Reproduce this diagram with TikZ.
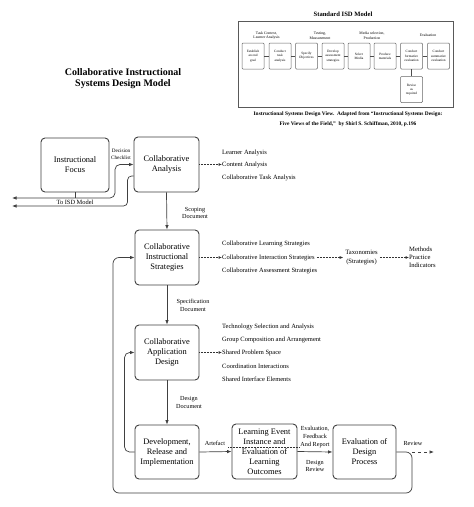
\documentclass[tikz,border=0pt]{standalone}
\usepackage{fontspec}
\setmainfont{Liberation Serif}
\usetikzlibrary{arrows.meta,calc}
\newcommand\fsz[2]{\fontsize{#1}{#2}\selectfont}
\tikzset{
  mbox/.style={draw=black!75, line width=0.9pt, rounded corners=4pt, align=center,
    minimum width=64pt, minimum height=55pt, inner sep=1pt, font=\fsz{8.4}{10}},
  conn/.style={draw=black!75, line width=0.7pt},
  arr/.style={conn, -{Latex[length=4.5pt,width=3.5pt]}},
  darr/.style={conn, {Latex[length=4.5pt,width=3.5pt]}-{Latex[length=4.5pt,width=3.5pt]}},
  dotarr/.style={draw=black!80, line width=0.5pt, densely dotted, -{Latex[length=3.5pt,width=2.8pt]}},
  side/.style={anchor=west, inner sep=0pt, font=\fsz{6.5}{8}},
  lbl/.style={align=center, inner sep=0pt, font=\fsz{6.2}{7.6}},
  sbox/.style={draw=black!60, line width=0.5pt, rounded corners=1pt, minimum width=22pt,
    minimum height=26pt, inner sep=0pt, align=center, font=\fsz{3.4}{4.2}},
  glbl/.style={align=center, inner sep=0pt, font=\fsz{3.8}{4.6}},
  sconn/.style={draw=black!70, line width=0.6pt}
}
\begin{document}
\begin{tikzpicture}[x=1pt,y=-1pt]
\useasboundingbox (0,0) rectangle (474,507);
\fill[white] (0,0) rectangle (474,507);

% ---------- Inset: Standard ISD Model ----------
\node[inner sep=0pt, font=\bfseries\fsz{6.6}{8}] (istitle) at (343,14) {Standard ISD Model};
\node[draw=black!65, line width=0.8pt, minimum width=215pt, minimum height=86pt, inner sep=0pt] (inset) at (345.5,64) {};
\node[sbox] (s1) at (253,56) {Establish\\an end\\goal};
\node[sbox] (s2) at (280,56) {Conduct\\task\\analysis};
\node[sbox] (s3) at (306.5,56) {Specify\\Objectives};
\node[sbox] (s4) at (333,56) {Develop\\assessment\\strategies};
\node[sbox] (s5) at (359,56) {Select\\Media};
\node[sbox] (s6) at (385,56) {Produce\\materials};
\node[sbox] (s7) at (411.5,56) {Conduct\\formative\\evaluation};
\node[sbox] (s8) at (438.5,56) {Conduct\\summative\\evaluation};
\node[sbox] (s9) at (411.5,89.5) {Revise\\as\\required};
\foreach \a/\b in {s1/s2,s2/s3,s3/s4,s4/s5,s5/s6,s6/s7,s7/s8}
  \draw[sconn] (\a.east) -- (\b.west);
\draw[sconn] (s7.south) -- (s9.north);
\node[glbl] (g1) at (266.5,35.5) {Task Context,\\Learner Analysis};
\node[glbl] (g2) at (320,35.5) {Testing,\\Measurement};
\node[glbl] (g3) at (372,35.5) {Media selection,\\Production};
\node[glbl] (g4) at (428,35) {Evaluation};
\node[align=center, inner sep=0pt, font=\bfseries\fsz{5.4}{10}] (caption) at (348,119)
  {Instructional Systems Design View.\ \ Adapted from “Instructional Systems Design:\\
   Five Views of the Field,”\ \ by Shirl S. Schiffman, 2010, p.196};

% ---------- Title ----------
\node[align=center, inner sep=0pt, font=\bfseries\fsz{10}{11.5}] (title) at (123,78.5)
  {Collaborative Instructional\\Systems Design Model};

% ---------- Main boxes ----------
\node[mbox, minimum width=68pt, minimum height=54pt] (IF) at (75,165) {Instructional\\Focus};
\node[mbox, minimum width=65pt] (CA) at (166.5,164.5) {Collaborative\\Analysis};
\node[mbox] (CIS) at (167,257.5) {Collaborative\\Instructional\\Strategies};
\node[mbox] (CAD) at (167,352.5) {Collaborative\\Application\\Design};
\node[mbox, minimum height=54pt] (DRI) at (167,452) {Development,\\Release and\\Implementation};
\node[mbox, minimum width=65pt] (LE) at (264.5,451.5) {Learning Event\\Instance and\\Evaluation of\\Learning\\Outcomes};
\node[mbox, minimum width=63pt, minimum height=54pt] (EDP) at (364.5,452) {Evaluation of\\Design\\Process};

% ---------- To ISD Model connectors ----------
\coordinate (isdA) at (12,198);
\coordinate (isdB) at (12,206);
\draw[darr, rounded corners=5pt] (isdA) -- ++(103,0) |- (CA.west);
\draw[conn] (IF.south) -- (IF.south |- isdA);
\draw[arr, rounded corners=4pt] ([yshift=-11.5pt]CA.west) -- ++(-6,0) |- (isdB);
\node[lbl, font=\fsz{6.4}{7.6}] (toisd) at (75,202.5) {To ISD Model};
\node[lbl, font=\fsz{5.2}{7}] (dcl) at (121,154.5) {Decision\\Checklist};

% ---------- Vertical flow ----------
\draw[arr] (CA.south) -- (CIS.north);
\node[lbl] (scop) at (195,213) {Scoping\\Document};
\draw[arr] (CIS.south) -- (CAD.north);
\node[lbl] (spec) at (193,305.5) {Specification\\Document};
\draw[arr] (CAD.south) -- (DRI.north);
\node[lbl] (desd) at (189,402.5) {Design\\Document};

% ---------- Horizontal flow ----------
\draw[arr] (DRI.east) -- (LE.west);
\node[lbl] (artf) at (215,443) {Artefact};
\draw[arr] (LE.east) -- (EDP.west);
\node[lbl, font=\fsz{6.2}{7.8}] (efr) at (315,437) {Evaluation,\\Feedback\\And Report};
\node[lbl, font=\fsz{6.2}{7.8}] (drv) at (315,466) {Design\\Review};
\coordinate (dlA) at (228,447.5);
\coordinate (dlB) at (300,447.5);
\draw[draw=black!80, line width=0.5pt, densely dotted] (dlA) -- (dlB);

% ---------- Feedback loops ----------
\coordinate (lpA) at (412,493);
\coordinate (lpB) at (113,493);
\draw[arr, rounded corners=6pt] (EDP.east) -| (lpA) -- (lpB) |- (CIS.west);
\draw[arr, rounded corners=5pt] (DRI.west) -- ++(-10,0) |- (CAD.west);
\coordinate (rvA) at (412,452);
\coordinate (rvB) at (434,452);
\draw[arr, dashed] (rvA) -- (rvB);
\node[lbl] (rvw) at (413,443) {Review};

% ---------- Side lists ----------
\node[side] (ca1) at (222,153) {Learner Analysis};
\node[side] (ca2) at (222,164.5) {Content Analysis};
\node[side] (ca3) at (222,178) {Collaborative Task Analysis};
\draw[dotarr] (CA.east) -- (ca2.west);

\node[side] (cs1) at (222,244) {Collaborative Learning Strategies};
\node[side] (cs2) at (222,257.5) {Collaborative Interaction Strategies};
\node[side] (cs3) at (222,271) {Collaborative Assessment Strategies};
\draw[dotarr] (CIS.east) -- (cs2.west);

\node[lbl, font=\fsz{6.6}{8.6}] (tax) at (361.5,257.5) {Taxonomies\\(Strategies)};
\node[side, align=left, font=\fsz{6.6}{8}] (meth) at (409,257.5) {Methods\\Practice\\Indicators};
\draw[dotarr] ([xshift=2pt]cs2.east) -- ([xshift=-2pt]tax.west);
\draw[dotarr] ([xshift=2pt]tax.east) -- (meth.west);

\node[side] (cd1) at (222,327) {Technology Selection and Analysis};
\node[side] (cd2) at (222,340) {Group Composition and Arrangement};
\node[side] (cd3) at (222,352.5) {Shared Problem Space};
\node[side] (cd4) at (222,366) {Coordination Interactions};
\node[side] (cd5) at (222,379) {Shared Interface Elements};
\draw[dotarr] (CAD.east) -- (cd3.west);
\end{tikzpicture}
\end{document}
